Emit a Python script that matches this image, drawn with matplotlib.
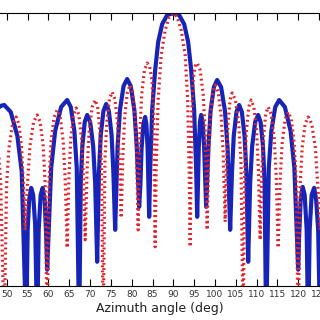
import matplotlib
matplotlib.use('Agg')
import matplotlib.pyplot as plt
import numpy as np

# azimuth angle (deg) and normalised pattern (dB)
blue_deg = [46.04, 47.24, 48.44, 49.40, 50.98, 52.57, 53.62, 54.68,
            55.04, 55.40, 55.88, 56.36, 56.84, 57.32,
            57.68, 58.16, 58.64, 59.12, 59.48, 59.72,
            60.68, 61.64, 63.08, 64.52, 65.38, 66.25, 66.82, 67.40,
            67.78, 68.17, 68.74, 69.32, 70.04, 70.76, 71.24, 71.72,
            72.15, 72.58, 73.23, 73.88, 74.53, 75.18, 75.61, 76.04,
            76.62, 77.19, 78.06, 78.92, 79.78, 80.65, 81.22, 81.80,
            82.09, 82.38, 82.81, 83.24, 83.53, 83.82, 84.01, 84.20,
            84.44, 84.92, 85.64, 86.36, 87.32, 88.52, 90.00, 91.40, 92.60,
            93.56, 94.28, 95.00, 95.48, 95.72,
            95.91, 96.10, 96.39, 96.68, 97.04, 97.40, 97.69, 97.88,
            98.41, 98.94, 99.73, 100.52, 101.46, 102.39, 103.02, 103.64,
            104.07, 104.50, 105.15, 105.80, 106.45, 107.10, 107.53, 107.96,
            108.44, 108.92, 109.64, 110.36, 110.94, 111.51, 111.90, 112.28,
            112.90, 113.53, 114.46, 115.40, 116.77, 118.14, 119.05, 119.96,
            120.20, 120.56, 121.04, 121.52, 122.00, 122.36,
            122.72, 123.20, 123.80, 124.28, 124.76, 125.24, 126.20, 127.16]
blue_db = [-19.05, -14.85, -13.95, -13.8, -14.85, -18.45, -23.85, -48,
           -32.55, -28.05, -26.25, -27.3, -31.8, -48,
           -32.55, -27.3, -26.25, -28.05, -33.3, -38.55,
           -23.25, -17.7, -14.1, -13.05, -14.1, -17.7, -23.25, -48,
           -25.5, -19.95, -16.35, -15.3, -16.35, -19.95, -25.5, -37.35,
           -23.85, -18.3, -14.7, -13.65, -14.7, -18.3, -23.85, -32.55,
           -20.1, -14.55, -10.95, -9.9, -10.95, -14.55, -20.1, -29.1,
           -25.8, -20.25, -16.65, -15.6, -16.65, -20.25, -25.8, -30.6,
           -23.55, -14.55, -8.55, -4.35, -1.65, -0.3, 0.0, -0.3, -1.65,
           -4.35, -8.55, -14.55, -23.55, -30.6,
           -25.8, -20.25, -16.35, -15.3, -16.35, -20.25, -25.8, -29.1,
           -20.25, -14.7, -11.1, -10.05, -11.1, -14.7, -20.25, -32.55,
           -24.0, -18.45, -14.85, -13.8, -14.85, -18.45, -24.0, -37.35,
           -25.5, -19.95, -16.35, -15.3, -16.35, -19.95, -25.5, -48,
           -23.25, -17.7, -14.1, -13.05, -14.1, -17.7, -23.25, -38.55,
           -33.3, -28.05, -26.1, -27.3, -32.55, -48,
           -32.55, -27.3, -26.25, -28.05, -32.55, -48, -23.85, -18.45]

red_deg = [43.64, 45.08, 46.28, 47.17, 48.01, 48.58, 49.40,
           49.98, 50.55, 51.42, 52.28, 52.93, 53.58, 54.01, 54.44,
           55.02, 55.59, 56.46, 57.32, 58.04, 58.76, 59.24, 59.72,
           60.20, 60.68, 61.40, 62.12, 62.84, 63.56, 64.04, 64.52,
           64.95, 65.38, 66.03, 66.68, 67.33, 67.98, 68.41, 68.84,
           69.32, 69.80, 70.52, 71.24, 71.82, 72.39, 72.78, 73.16,
           73.59, 74.02, 74.67, 75.32, 75.97, 76.62, 77.05, 77.48,
           77.91, 78.34, 78.99, 79.64, 80.22, 80.79, 81.18, 81.56,
           81.99, 82.42, 83.07, 83.72, 84.30, 84.87, 85.26, 85.64,
           85.88, 86.36, 87.08, 88.04, 89.00, 90.00, 90.92, 91.88, 92.84,
           93.44, 93.80, 94.04,
           94.40, 94.76, 95.24, 95.72, 96.44, 97.16, 97.64, 98.12,
           98.50, 98.89, 99.46, 100.04, 100.76, 101.48, 101.96, 102.44,
           102.78, 103.11, 103.62, 104.12, 104.91, 105.70, 106.23, 106.76,
           107.14, 107.53, 108.10, 108.68, 109.33, 109.98, 110.41, 110.84,
           111.22, 111.61, 112.18, 112.76, 113.48, 114.20, 114.68, 115.16,
           115.64, 116.12, 116.84, 117.56, 118.28, 119.00, 119.48, 119.96,
           120.44, 120.92, 121.64, 122.36, 123.22, 124.09, 124.66, 125.24,
           125.96, 126.68]
red_db = [-23.55, -17.55, -15.6, -16.65, -20.25, -25.8, -48,
          -25.8, -20.25, -16.65, -15.6, -16.65, -20.25, -25.8, -32.55,
          -25.5, -19.95, -16.35, -15.3, -16.35, -19.95, -25.5, -48,
          -24.75, -19.2, -15.6, -14.55, -15.6, -19.2, -24.75, -35.25,
          -24.45, -18.9, -15.3, -14.25, -15.3, -18.9, -24.45, -34.05,
          -23.25, -17.7, -14.1, -13.05, -14.1, -17.7, -23.25, -48,
          -22.05, -16.5, -12.9, -11.85, -12.9, -16.5, -22.05, -30.75,
          -21.0, -15.45, -11.85, -10.8, -11.85, -15.45, -21.0, -32.55,
          -17.7, -12.15, -8.55, -7.5, -7.95, -10.05, -15.3, -35.1,
          -23.55, -13.05, -6.3, -2.55, -0.6, 0.0, -0.6, -2.55, -6.3,
          -13.05, -23.55, -35.1,
          -15.3, -10.05, -7.95, -7.5, -8.55, -12.15, -17.7, -32.55,
          -21.0, -15.45, -11.85, -10.8, -11.85, -15.45, -21.0, -31.35,
          -22.2, -16.65, -13.05, -12.0, -13.05, -16.65, -22.2, -48,
          -23.25, -17.7, -14.1, -13.05, -14.1, -17.7, -23.25, -34.05,
          -24.3, -18.75, -15.15, -14.1, -15.15, -18.75, -24.3, -35.25,
          -25.05, -19.5, -15.9, -14.85, -15.9, -19.5, -25.05, -48,
          -25.8, -20.25, -16.65, -15.6, -16.65, -20.25, -25.8, -32.55,
          -25.8, -20.25]

xticks = np.arange(50, 130, 5)

fig = plt.figure(figsize=(3.2, 3.2), dpi=100)
ax = fig.add_axes([0, 0.106, 1, 0.853])

ax.plot(blue_deg, blue_db, color='#1624b8', linewidth=3.0, solid_joinstyle='round')
ax.plot(red_deg, red_db, color='#e0242e', linewidth=2.3, linestyle=(0, (0.6, 1.0)),
        dash_capstyle='butt')

ax.set_xlim(48.4, 125.2)
ax.set_ylim(-41, 0)
ax.set_xticks(xticks)
ax.set_yticks([])
ax.tick_params(axis='x', direction='in', top=True, length=5, width=0.8,
               labelsize=6.5, labelcolor='#333333', pad=3)
ax.spines['left'].set_visible(False)
ax.spines['right'].set_visible(False)
ax.spines['top'].set_linewidth(0.8)
ax.spines['bottom'].set_linewidth(0.8)
ax.set_xlabel('Azimuth angle (deg)', fontsize=9, color='#222222', labelpad=2)

fig.savefig('out.png', dpi=100)
